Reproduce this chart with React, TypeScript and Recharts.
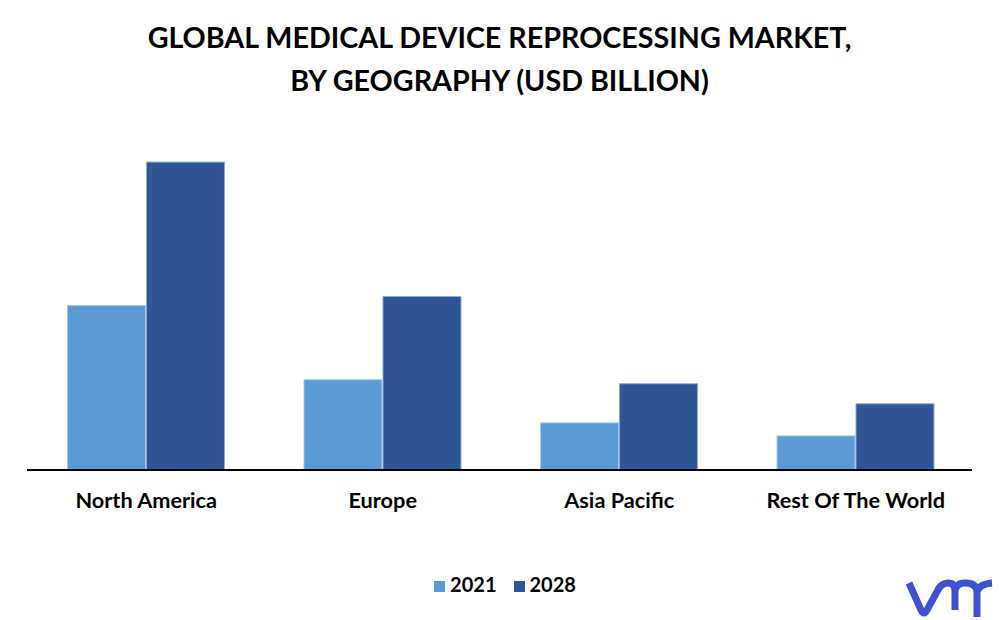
import React from 'react';
import { BarChart, Bar, Legend, XAxis, YAxis } from 'recharts';

const regions = ['North America', 'Europe', 'Asia Pacific', 'Rest Of The World'];
const values2021 = [1.64, 0.9, 0.47, 0.34];
const values2028 = [3.07, 1.73, 0.86, 0.66];
const titleLines = ['GLOBAL MEDICAL DEVICE REPROCESSING MARKET,', 'BY GEOGRAPHY (USD BILLION)'];

const data = regions.map((region, i) => ({
  region,
  '2021': values2021[i],
  '2028': values2028[i],
}));

const FONT = 'Lato, "Open Sans", sans-serif';

function Logo() {
  return (
    <svg width={100} height={50} viewBox="0 0 100 50" style={{ position: 'absolute', left: 899, top: 570 }}>
      <path
        d="M10 13 L22 40 Q25 46 28 40 L40 18 Q44 13 49 13 Q56 13 56 21 L56 40 M56 21 Q57 13 66 13 Q78 13 78 22 L78 47 M78 22 Q80 14 93 13"
        fill="none"
        stroke="#3f51cf"
        strokeWidth={7}
      />
    </svg>
  );
}

export default function App() {
  return (
    <div style={{ position: 'absolute', left: 0, top: 0, width: 999, height: 620, background: '#fff', fontFamily: FONT }}>
      <div style={{ position: 'absolute', top: 16, left: 0, width: 999, textAlign: 'center', fontSize: 28.7, fontWeight: 700, lineHeight: '43px', color: '#000' }}>
        {titleLines.map((line) => (
          <div key={line}>{line}</div>
        ))}
      </div>
      <BarChart
        width={999}
        height={620}
        data={data}
        margin={{ top: 129, right: 27, bottom: 96, left: 27 }}
        barCategoryGap="16.7%"
        barGap={1}
      >
        <XAxis
          dataKey="region"
          axisLine={{ stroke: '#000', strokeWidth: 2 }}
          tickLine={false}
          tick={{ fill: '#000', fontSize: 21.7, fontWeight: 700, fontFamily: FONT }}
          tickMargin={17}
          interval={0}
          padding={{ left: 1, right: -2 }}
        />
        <YAxis hide domain={[0, 3.4]} />
        <Legend
          verticalAlign="bottom"
          iconType="square"
          iconSize={11}
          wrapperStyle={{ bottom: 24, left: 41, fontSize: 20, fontWeight: 700 }}
          formatter={(value: string) => <span style={{ color: '#000', marginLeft: 1, marginRight: 7 }}>{value}</span>}
        />
        <Bar dataKey="2021" fill="#5b9bd5" stroke="#a9c7e8" strokeWidth={1} isAnimationActive={false} />
        <Bar dataKey="2028" fill="#2f5597" stroke="#8ea9d6" strokeWidth={1} isAnimationActive={false} />
      </BarChart>
      <Logo />
    </div>
  );
}
